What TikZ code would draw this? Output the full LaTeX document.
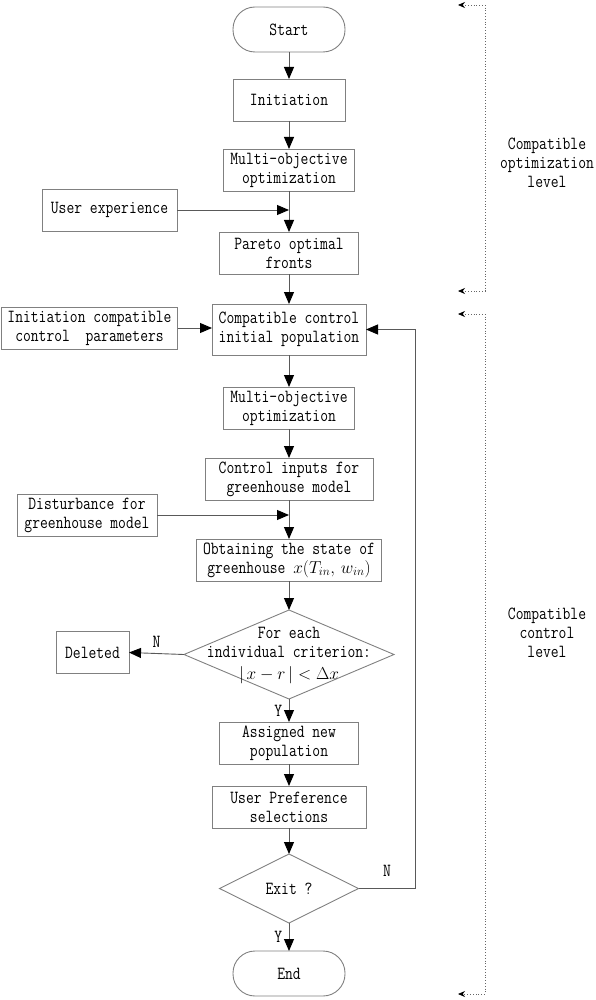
\documentclass[tikz,border=0pt]{standalone}
\usepackage{fontspec}
\setmonofont{Latin Modern Mono}[FakeStretch=0.82]
\renewcommand{\familydefault}{\ttdefault}
\usetikzlibrary{positioning,shapes,arrows.meta,calc}

\begin{document}
\begin{tikzpicture}[x=1pt, y=-1pt, node distance=28pt, font=\fontsize{18.5}{19}\selectfont]
\tikzset{
    block/.style={rectangle, draw=black!50, line width=0.9pt, align=center, minimum height=42pt, inner sep=2pt, outer sep=0pt},
    terminal/.style={block, rounded corners=22pt, minimum width=112pt, minimum height=45pt},
    decision/.style={diamond, draw=black!50, line width=0.9pt, inner sep=0pt, outer sep=0pt},
    flow/.style={draw=black!65, line width=0.9pt, -{Triangle[length=12pt,width=10pt,color=black]}},
    level/.style={dotted, draw=black!60, line width=0.8pt, {Stealth[length=7pt,width=6pt,color=black]}-{Stealth[length=7pt,width=6pt,color=black]}}
}
\useasboundingbox (0,0) rectangle (596,1000);

% main column
\node[terminal] (start) at (289,29.5) {Start};
\node[block, minimum width=112pt, below=27pt of start] (init) {Initiation};
\node[block, minimum width=131pt, below=28pt of init] (moo1) {Multi-objective\\optimization};
\node[block, minimum width=139pt, below=41pt of moo1] (pareto) {Pareto optimal\\fronts};
\node[block, minimum width=154pt, minimum height=51pt, below=30pt of pareto] (pop) {Compatible control\\initial population};
\node[block, minimum width=131pt, below=32pt of pop] (moo2) {Multi-objective\\optimization};
\node[block, minimum width=168pt, below=29pt of moo2] (inputs) {Control inputs for\\greenhouse model};
\node[block, minimum width=185pt, below=39pt of inputs] (state) {Obtaining the state of\\greenhouse $x(T_{in},\,w_{in})$};
\node[decision, minimum width=210pt, minimum height=89pt, below=29pt of state] (check) {};
\node[align=center] at ([yshift=-1pt]check.center) {For each\\individual criterion:\\[3pt]$|\,x-r\,|<\Delta x$};
\node[block, minimum width=139pt, below=23pt of check] (assign) {Assigned new\\population};
\node[block, minimum width=154pt, below=22pt of assign] (pref) {User Preference\\selections};
\node[decision, minimum width=139pt, minimum height=69pt, below=26pt of pref] (exit) {};
\node at (exit) {Exit ?};
\node[terminal, below=28pt of exit] (end) {End};

% side inputs
\node[block, minimum width=135pt] (experience) at (109.5,210) {User experience};
\node[block, minimum width=176pt] (initpar) at (89.5,328) {Initiation compatible\\control\ \ parameters};
\node[block, minimum width=140pt] (disturb) at (87,515) {Disturbance for\\greenhouse model};
\node[block, minimum width=73pt] (deleted) at (92.5,652.5) {Deleted};

\draw[flow] (start) -- (init);
\draw[flow] (init) -- (moo1);
\draw[flow] (moo1) -- (pareto);
\draw[flow] (experience.east) -- (experience.east -| moo1.south);
\draw[flow] (pareto) -- (pop);
\draw[flow] (initpar.east) -- (initpar.east -| pop.west);
\draw[flow] (pop) -- (moo2);
\draw[flow] (moo2) -- (inputs);
\draw[flow] (inputs) -- (state);
\draw[flow] (disturb.east) -- (disturb.east -| inputs.south);
\draw[flow] (state) -- (check);
\draw[flow] (check.west) -- (deleted.east) node[midway, above=2pt] {N};
\draw[flow] (check.south) -- (assign.north) node[midway, left=3pt] {Y};
\draw[flow] (assign) -- (pref);
\draw[flow] (pref) -- (exit);
\draw[flow] (exit.east) -- ++(57,0) node[midway, above=8pt] {N} |- (pop.east);
\draw[flow] (exit.south) -- (end.north) node[midway, left=3pt] {Y};

% levels
\coordinate (opttop) at (458,5);
\coordinate (optbot) at (458,291);
\coordinate (ctltop) at (458,314);
\coordinate (ctlbot) at (458,994);
\draw[level] (opttop) -- ++(27,0) |- (optbot);
\draw[level] (ctltop) -- ++(27,0) |- (ctlbot);
\node[align=center] (optlevel) at (547,163) {Compatible\\optimization\\level};
\node[align=center] (ctllevel) at (547,633) {Compatible\\control\\level};
\end{tikzpicture}
\end{document}
